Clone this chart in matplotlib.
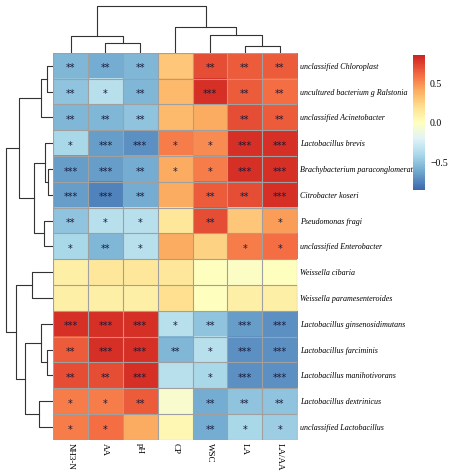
import matplotlib
matplotlib.use("Agg")
import matplotlib.pyplot as plt
import numpy as np

cols = ["NH3-N", "AA", "pH", "CP", "WSC", "LA", "LA/AA"]
rows = ["unclassified Chloroplast", "uncultured bacterium g Ralstonia", "unclassified Acinetobacter",
        "Lactobacillus brevis", "Brachybacterium paraconglomeratum", "Citrobacter koseri",
        "Pseudomonas fragi", "unclassified Enterobacter", "Weissella cibaria",
        "Weissella paramesenteroides", "Lactobacillus ginsenosidimutans", "Lactobacillus farciminis",
        "Lactobacillus manihotivorans", "Lactobacillus dextrinicus", "unclassified Lactobacillus"]
vals = np.array([
    [-0.55, -0.6, -0.55, 0.3, 0.7, 0.65, 0.65],
    [-0.5, -0.35, -0.55, 0.35, 0.8, 0.65, 0.6],
    [-0.55, -0.55, -0.5, 0.35, 0.4, 0.7, 0.65],
    [-0.4, -0.65, -0.7, 0.55, 0.5, 0.8, 0.8],
    [-0.65, -0.65, -0.6, 0.4, 0.55, 0.8, 0.8],
    [-0.65, -0.75, -0.6, 0.4, 0.65, 0.7, 0.8],
    [-0.5, -0.35, -0.35, 0.15, 0.7, 0.3, 0.45],
    [-0.4, -0.55, -0.35, 0.4, 0.25, 0.55, 0.6],
    [0.1, 0.15, 0.15, 0.15, 0.0, -0.02, 0.0],
    [0.1, 0.1, 0.1, 0.2, 0.0, 0.1, 0.1],
    [0.8, 0.8, 0.8, -0.35, -0.5, -0.65, -0.7],
    [0.65, 0.8, 0.8, -0.55, -0.35, -0.7, -0.7],
    [0.7, 0.7, 0.8, -0.35, -0.4, -0.7, -0.7],
    [0.55, 0.55, 0.65, -0.05, -0.6, -0.5, -0.5],
    [0.55, 0.6, 0.4, 0.05, -0.6, -0.4, -0.45]])
stars = [
    ["**", "**", "**", "", "**", "**", "**"],
    ["**", "*", "**", "", "***", "**", "**"],
    ["**", "**", "**", "", "", "**", "**"],
    ["*", "***", "***", "*", "*", "***", "***"],
    ["***", "***", "**", "*", "*", "***", "***"],
    ["***", "***", "**", "", "**", "**", "***"],
    ["**", "*", "*", "", "**", "", "*"],
    ["*", "**", "*", "", "", "*", "*"],
    ["", "", "", "", "", "", ""],
    ["", "", "", "", "", "", ""],
    ["***", "***", "***", "*", "**", "***", "***"],
    ["**", "***", "***", "**", "*", "***", "***"],
    ["**", "**", "***", "", "*", "***", "***"],
    ["*", "*", "**", "", "**", "**", "**"],
    ["*", "*", "", "", "**", "*", "*"]]
# dendrogram trees: (height, left, right) or leaf index
row_tree = (1.0,
            (0.72, (0.25, (0.12, 0, 1), 2), (0.4, (0.18, 3, (0.1, 4, 5)), (0.2, 6, 7))),
            (0.8, (0.45, 8, 9), (0.6, (0.25, 10, (0.12, 11, 12)), (0.3, 13, 14))))
col_tree = (1.0, (0.35, 0, (0.2, 1, 2)), (0.55, 3, (0.38, 4, (0.15, 5, 6))))

serif = "Liberation Serif"
fig = plt.figure(figsize=(4.74, 4.72), dpi=100)
pos = [0.112, 0.068, 0.515, 0.82]
ax = fig.add_axes(pos)
im = ax.imshow(vals, cmap="RdYlBu_r", vmin=-1.0, vmax=1.0, aspect="auto")
nr, nc = vals.shape
for i in range(nr):
    for j in range(nc):
        if stars[i][j]:
            ax.text(j, i + 0.1, stars[i][j], ha="center", va="center", fontsize=7, color="#1a1a3a")
ax.set_xticks(np.arange(nc + 1) - 0.5, minor=True)
ax.set_yticks(np.arange(nr + 1) - 0.5, minor=True)
ax.grid(which="minor", color="#a0a0a0", lw=0.8)
ax.tick_params(which="both", length=0, pad=2)
ax.set_xticks(range(nc))
ax.set_xticklabels(cols, rotation=-90, fontfamily=serif, fontsize=6.5)
ax.set_yticks(range(nr))
ax.set_yticklabels(rows, fontfamily=serif, style="italic", fontsize=5.8)
ax.yaxis.tick_right()
for s in ax.spines.values():
    s.set_visible(False)

def draw(axd, tree, orient):
    def rec(t):
        if isinstance(t, int):
            return t, 0.0
        h, l, r = t
        pl, hl = rec(l)
        pr, hr = rec(r)
        if orient == "left":
            axd.plot([-hl, -h, -h, -hr], [pl, pl, pr, pr], color="#333333", lw=0.8)
        else:
            axd.plot([pl, pl, pr, pr], [hl, h, h, hr], color="#333333", lw=0.8)
        return (pl + pr) / 2, h
    rec(tree)

axr = fig.add_axes([0.008, pos[1], 0.104, pos[3]])
draw(axr, row_tree, "left")
axr.set_ylim(nr - 0.5, -0.5); axr.set_xlim(-1.05, 0)
axr.axis("off")
axc = fig.add_axes([pos[0], pos[1] + pos[3], pos[2], 0.105])
draw(axc, col_tree, "top")
axc.set_xlim(-0.5, nc - 0.5); axc.set_ylim(0, 1.05)
axc.axis("off")

cax = fig.add_axes([0.871, 0.597, 0.026, 0.286])
cb = fig.colorbar(im, cax=cax, ticks=[0.5, 0, -0.5])
cb.ax.set_ylim(-0.85, 0.85)
cb.outline.set_visible(False)
cb.ax.tick_params(length=0, labelsize=7)
for t in cb.ax.get_yticklabels():
    t.set_fontfamily(serif)
fig.savefig("out.png", dpi=100)
